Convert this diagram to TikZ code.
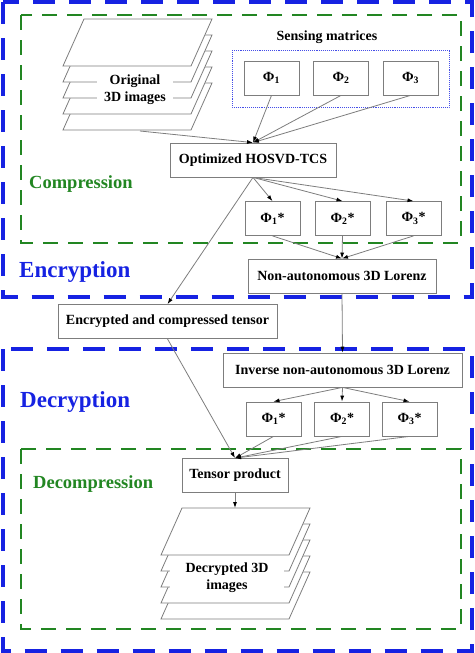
\documentclass[tikz,border=0pt]{standalone}
\usepackage{fontspec}
\setmainfont{Liberation Serif}
\usetikzlibrary{arrows.meta}

\definecolor{zoneblue}{RGB}{22,34,226}
\definecolor{zonegreen}{RGB}{34,134,34}
\definecolor{edgegray}{RGB}{125,125,125}

\newcommand\imglayer[2]{\draw[edgegray, line width=0.8pt, fill=white] (#1,#2) -- ++(128,0) -- ++(21,-47) -- ++(-128,0) -- cycle ; }
\newcommand\imgstack[2]{
	\foreach \k in {4,3,2,1,0} { \imglayer{#1}{#2+16*\k} }
}

\tikzset{
	box/.style={draw=edgegray, line width=0.8pt, fill=white, inner sep=0pt, minimum height=34pt, font=\fontsize{14}{17}\selectfont\bfseries},
	phibox/.style={box, minimum width=55pt},
	link/.style={edgegray, line width=0.8pt, -{Latex[length=6pt,width=4pt,color=black]}},
	bluezone/.style={zoneblue, line width=4pt, dash pattern=on 22pt off 14pt},
	greenzone/.style={zonegreen, line width=2pt, dash pattern=on 15pt off 10pt},
	bluelabel/.style={anchor=base west, inner sep=0pt, text=zoneblue, font=\fontsize{23}{26}\selectfont\bfseries},
	greenlabel/.style={anchor=base west, inner sep=0pt, text=zonegreen, font=\fontsize{18.5}{22}\selectfont\bfseries},
	stacktext/.style={fill=white, align=center, inner ysep=1pt, font=\fontsize{14}{17}\selectfont\bfseries},
}

\begin{document}
\begin{tikzpicture}[x=1pt, y=-1pt]
	\useasboundingbox (0,0) rectangle (474,653);

	% encryption and decryption zones
	\draw[bluezone] (2.5,2) rectangle (471.5,297);
	\draw[bluezone] (2.5,349) rectangle (471.5,651);
	\node[bluelabel] (enclabel) at (19,277) {Encryption};
	\node[bluelabel] (declabel) at (20,407) {Decryption};

	% compression and decompression zones
	\draw[greenzone] (21,15) rectangle (461,243);
	\draw[greenzone] (21,449) rectangle (461,629);
	\node[greenlabel] (cmplabel) at (29,188) {Compression};
	\node[greenlabel] (dcmlabel) at (33,488) {Decompression};

	% original images
	\imgstack{63}{66}
	\node[stacktext, inner xsep=7pt] (orig) at (135,90) {Original\\3D images};
	\coordinate (origout) at (140,131);

	% sensing matrices
	\node[inner sep=0pt, font=\fontsize{14}{17}\selectfont\bfseries] (senslabel) at (327,37) {Sensing matrices};
	\draw[zoneblue!80, densely dotted, line width=0.9pt] (232,50) rectangle (449,107);
	\node[phibox] (s1) at (271.5,78) {Φ\textsubscript{1}};
	\node[phibox] (s2) at (341,78) {Φ\textsubscript{2}};
	\node[phibox] (s3) at (410.5,78) {Φ\textsubscript{3}};

	% compression
	\node[box, minimum width=166pt] (opt) at (253,160) {Optimized HOSVD-TCS};
	\node[phibox] (c1) at (272.5,218.5) {Φ\textsubscript{1}*};
	\node[phibox] (c2) at (342.5,218.5) {Φ\textsubscript{2}*};
	\node[phibox] (c3) at (413.5,218.5) {Φ\textsubscript{3}*};

	% encryption
	\node[box, minimum width=188pt] (lorenz) at (342,276) {Non-autonomous 3D Lorenz};
	\node[box, minimum width=219pt] (cipher) at (167.5,321.5) {Encrypted and compressed tensor};

	% decryption
	\node[box, minimum width=239pt] (inv) at (342.5,370) {Inverse non-autonomous 3D Lorenz};
	\node[phibox] (d1) at (273.5,419) {Φ\textsubscript{1}*};
	\node[phibox] (d2) at (342,419) {Φ\textsubscript{2}*};
	\node[phibox] (d3) at (409.5,419) {Φ\textsubscript{3}*};

	% decompression
	\node[box, minimum width=106pt] (prod) at (235,475.5) {Tensor product};
	\imgstack{161}{555}
	\node[stacktext, inner xsep=16pt] (decr) at (227,578) {Decrypted 3D\\images};
	\coordinate (decin) at (235,508);

	% into HOSVD-TCS
	\draw[link] (origout) -- (opt.north);
	\foreach \s in {s1,s2,s3} \draw[link] (\s.south) -- (opt.north);

	% HOSVD-TCS out
	\foreach \c in {c1,c2,c3} \draw[link] (opt.south) -- (\c.north);
	\draw[link] (opt.south) -- (cipher.north);

	% keys to Lorenz and down
	\foreach \c in {c1,c2,c3} \draw[link] (\c.south) -- (lorenz.north);
	\draw[link] (lorenz.south) -- (inv.north);
	\foreach \d in {d1,d2,d3} \draw[link] (inv.south) -- (\d.north);

	% into tensor product
	\draw[link] (cipher.south) -- (prod.north);
	\foreach \d in {d1,d2,d3} \draw[link] (\d.south) -- (prod.north);
	\draw[link] (prod.south) -- (decin);

\end{tikzpicture}
\end{document}
